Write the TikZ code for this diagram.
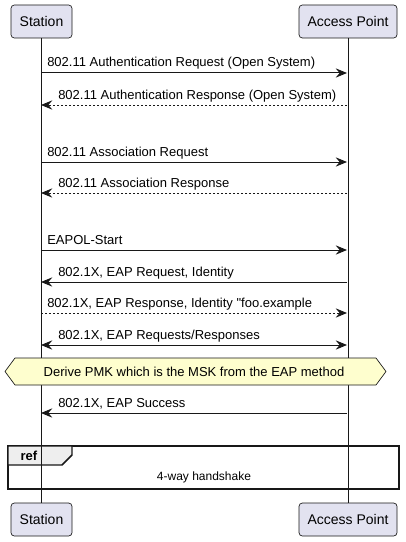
\documentclass[tikz,border=0pt]{standalone}
\usepackage{fontspec}
\setmainfont{Liberation Sans}
\usetikzlibrary{arrows.meta}
\definecolor{partfill}{HTML}{E2E2F0}
\definecolor{linecol}{HTML}{181818}
\definecolor{notefill}{HTML}{FEFECE}
\definecolor{tabfill}{HTML}{EEEEEE}
\begin{document}
\begin{tikzpicture}[x=0.75pt,y=-0.75pt,
    part/.style={draw=linecol,fill=partfill,rounded corners=2.5pt,line width=0.5pt,minimum height=33*0.75pt,inner sep=0pt,font=\fontsize{10.5}{12}\selectfont},
    life/.style={draw=linecol,line width=0.75pt},
    msg/.style={draw=linecol,line width=0.75pt,-{Stealth[length=8.5pt,width=7pt,inset=3pt]}},
    reply/.style={msg,dash pattern=on 1.5pt off 1.5pt},
    lbl/.style={anchor=base west,inner sep=0pt,font=\fontsize{9.75}{11.7}\selectfont}]
    \useasboundingbox (0,0) rectangle (405,542);
    \node[part,minimum width=61*0.75pt] (st) at (41.5,21.5) {Station};
    \node[part,minimum width=98*0.75pt] (ap) at (348,21.5) {Access Point};
    \node[part,minimum width=61*0.75pt] (stb) at (41.5,519.5) {Station};
    \node[part,minimum width=98*0.75pt] (apb) at (348,519.5) {Access Point};
    \draw[line width=1.1pt,draw=linecol] (8,446) rectangle (399,489);
    \filldraw[line width=1.1pt,draw=linecol,fill=tabfill] (8,446) -- (72,446) -- (72,455) -- (62,465) -- (8,465) -- cycle;
    \node[inner sep=0pt,font=\bfseries\fontsize{9.75}{11.7}\selectfont] (ref) at (29,456) {ref};
    \node[inner sep=0pt,font=\fontsize{9}{11}\selectfont] (hs) at (204,477) {4-way handshake};
    \draw[life] (st.south) -- (stb.north);
    \draw[life] (ap.south) -- (apb.north);
    \coordinate (s1) at (41,73); \coordinate (a1) at (347,73);
    \coordinate (s2) at (41,105); \coordinate (a2) at (347,105);
    \coordinate (s3) at (41,162); \coordinate (a3) at (347,162);
    \coordinate (s4) at (41,193); \coordinate (a4) at (347,193);
    \coordinate (s5) at (41,250); \coordinate (a5) at (347,250);
    \coordinate (s6) at (41,282); \coordinate (a6) at (347,282);
    \coordinate (s7) at (41,313); \coordinate (a7) at (347,313);
    \coordinate (s8) at (41,345); \coordinate (a8) at (347,345);
    \coordinate (s9) at (41,413); \coordinate (a9) at (347,413);
    \draw[msg] (s1) -- (a1);
    \draw[reply] (a2) -- (s2);
    \draw[msg] (s3) -- (a3);
    \draw[reply] (a4) -- (s4);
    \draw[msg] (s5) -- (a5);
    \draw[msg] (a6) -- (s6);
    \draw[reply] (s7) -- (a7);
    \draw[msg,{Stealth[length=8.5pt,width=7pt,inset=3pt]}-{Stealth[length=8.5pt,width=7pt,inset=3pt]}] (s8) -- (a8);
    \draw[msg] (a9) -- (s9);
    \node[lbl] (l1) at (47,67) {802.11 Authentication Request (Open System)};
    \node[lbl] (l2) at (58,99) {802.11 Authentication Response (Open System)};
    \node[lbl] (l3) at (47,156) {802.11 Association Request};
    \node[lbl] (l4) at (58,187) {802.11 Association Response};
    \node[lbl] (l5) at (47,244) {EAPOL-Start};
    \node[lbl] (l6) at (58,276) {802.1X, EAP Request, Identity};
    \node[lbl] (l7) at (47,307) {802.1X, EAP Response, Identity \textquotedbl foo.example};
    \node[lbl] (l8) at (58,339) {802.1X, EAP Requests/Responses};
    \node[lbl] (l9) at (58,407) {802.1X, EAP Success};
    \filldraw[draw=linecol,fill=notefill,line width=0.5pt] (5,371.5) -- (15,358) -- (376,358) -- (386,371.5) -- (376,385) -- (15,385) -- cycle;
    \node[lbl,anchor=center] (pmk) at (194,371.5) {Derive PMK which is the MSK from the EAP method};
\end{tikzpicture}
\end{document}
